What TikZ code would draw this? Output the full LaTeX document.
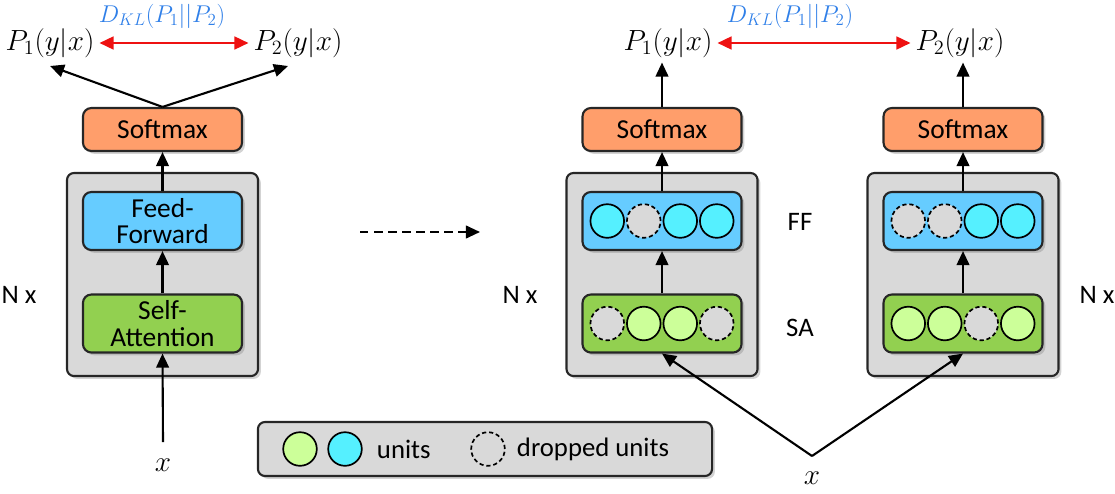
\documentclass[tikz,border=0pt]{standalone}
\usepackage{fontspec}
\setmainfont{Carlito}
\usetikzlibrary{arrows.meta, positioning, shadows}
\definecolor{softor}{HTML}{FF9E6B}
\definecolor{ffblue}{HTML}{66CCFF}
\definecolor{sagreen}{HTML}{92D050}
\definecolor{blockgray}{HTML}{D9D9D9}
\definecolor{unitcyan}{HTML}{55F0FF}
\definecolor{unitgreen}{HTML}{CCFF99}
\definecolor{klblue}{HTML}{2F7FE8}
\definecolor{klred}{HTML}{EE1111}
\tikzset{
  blk/.style={rectangle, rounded corners=6pt, draw=black!85, line width=1.5pt,
    minimum width=3.975cm, minimum height=1.45cm, align=center,
    font=\fontsize{19.5}{21}\selectfont, drop shadow={opacity=0.35, shadow xshift=2pt, shadow yshift=-2pt}},
  soft/.style={blk, fill=softor, minimum height=1.075cm},
  ff/.style={blk, fill=ffblue},
  sa/.style={blk, fill=sagreen},
  stack/.style={rectangle, rounded corners=5pt, draw=black!85, line width=1.5pt, fill=blockgray,
    minimum width=4.775cm, minimum height=5.075cm,
    drop shadow={opacity=0.35, shadow xshift=2pt, shadow yshift=-2pt}},
  unit/.style={circle, draw=black, line width=1.2pt, minimum size=0.84cm, inner sep=0pt},
  uc/.style={unit, fill=unitcyan},
  ug/.style={unit, fill=unitgreen},
  ud/.style={unit, fill=blockgray, dash pattern=on 3pt off 2pt},
  ar/.style={-{Triangle[length=10pt,width=9pt]}, line width=1.5pt},
  kl/.style={{Triangle[length=10pt,width=9pt]}-{Triangle[length=10pt,width=9pt]}, klred, line width=1.8pt},
  prob/.style={font=\fontsize{22}{24}\selectfont},
  dkl/.style={text=klblue, font=\fontsize{18}{20}\selectfont, inner sep=0pt},
  lbl/.style={font=\fontsize{19}{21}\selectfont},
}
\begin{document}
\begin{tikzpicture}[x=0.025cm, y=-0.025cm]
\useasboundingbox (0,0) rectangle (1115,493);

% left model
\node[stack] (LB) at (162.5,274.5) {};
\node[soft] (LSM) at (162.5,129.5) {Softmax};
\node[ff] (LFF) at (162.5,221) {Feed-\\[-2pt]Forward};
\node[sa] (LSA) at (162.5,323.5) {Self-\\[-2pt]Attention};
\node[lbl] (LN) at (19,295) {N x};
\node[prob] (LP1) at (50,43) {$P_1(y|x)$};
\node[prob] (LP2) at (298,43) {$P_2(y|x)$};
\node[dkl] (LKL) at (162,16) {$D_{KL}(P_1||P_2)$};
\node[prob] (LX) at (163,465) {$x$};
\coordinate (LXT) at (163,442);

\draw[ar] (LXT) -- (LSA.south);
\draw[ar] (LSA.north) -- (LFF.south);
\draw[ar] (LFF.north) -- (LSM.south);
\draw[ar] (LSM.north) -- (50,66);
\draw[ar] (LSM.north) -- (288,66);
\draw[kl] (LP1.east) -- (LP2.west);

% dashed arrow
\coordinate (DA) at (360,232);
\coordinate (DB) at (480,232);
\draw[ar, dash pattern=on 6pt off 4pt] (DA) -- (DB);

% right models
\foreach \nm/\cx/\ffu/\sau in {M/662/{uc,ud,uc,uc}/{ud,ug,ug,ud}, R/963/{ud,ud,uc,uc}/{ug,ug,ud,ug}}{
  \node[stack] (\nm B) at (\cx,274.5) {};
  \node[soft] (\nm SM) at (\cx,129.5) {Softmax};
  \node[ff, minimum height=1.45cm] (\nm FF) at (\cx,221) {};
  \node[sa, minimum height=1.45cm] (\nm SA) at (\cx,323.5) {};
  \foreach \st [count=\i] in \ffu
    \node[\st] (\nm F\i) at (\cx-91.25+36.5*\i,221) {};
  \foreach \st [count=\i] in \sau
    \node[\st] (\nm S\i) at (\cx-91.25+36.5*\i,323.5) {};
  \draw[ar] (\nm SA.north) -- (\nm FF.south);
  \draw[ar] (\nm FF.north) -- (\nm SM.south);
}
\node[lbl] (FFL) at (800,222) {FF};
\node[lbl] (SAL) at (800,328) {SA};
\node[lbl] (MN) at (520,295) {N x};
\node[lbl] (RN) at (1097,295) {N x};

\node[prob] (MP1) at (668,43) {$P_1(y|x)$};
\node[prob] (MP2) at (960,43) {$P_2(y|x)$};
\node[dkl] (MKL) at (790,16) {$D_{KL}(P_1||P_2)$};
\draw[ar] (MSM.north) -- (MSM.north |- MP1.south);
\draw[ar] (RSM.north) -- (RSM.north |- MP2.south);
\draw[kl] (MP1.east) -- (MP2.west);

\node[prob] (MX) at (812,478) {$x$};
\coordinate (MXT) at (812,456);
\draw[ar] (MXT) -- (MSA.south);
\draw[ar] (MXT) -- (RSA.south);

% legend
\node[stack, minimum width=11.35cm, minimum height=1.35cm] (LEG) at (485,449) {};
\node[ug] (LG1) at (300,449) {};
\node[uc] (LG2) at (345,449) {};
\node[lbl, anchor=west] (LGU) at (372,449) {units};
\node[ud] (LG3) at (488,449) {};
\node[lbl, anchor=west] (LGD) at (512,449) {dropped units};
\end{tikzpicture}
\end{document}
